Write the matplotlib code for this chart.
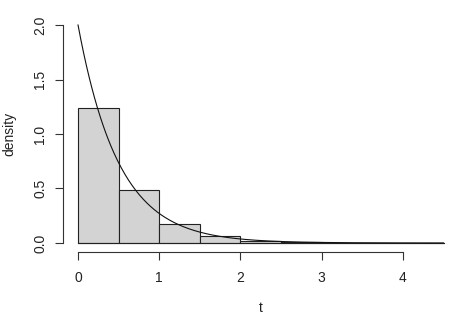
import numpy as np
import matplotlib
matplotlib.use('Agg')
import matplotlib.pyplot as plt

# histogram of simulated waiting times (density scale), bin width 0.5
bin_edges = [0.0, 0.5, 1.0, 1.5, 2.0, 2.5, 3.0, 3.5, 4.0, 4.5]
densities = [1.236, 0.488, 0.178, 0.068, 0.018, 0.007, 0.004, 0.0, 0.0]
# theoretical exponential density overlaid on top
rate = 2.0
x_ticks = [0, 1, 2, 3, 4]
y_ticks = [0.0, 0.5, 1.0, 1.5, 2.0]
y_tick_labels = ['0.0', '0.5', '1.0', '1.5', '2.0']


def plot_hist():
    plt.rcParams['font.family'] = ['Liberation Sans', 'DejaVu Sans']
    fig = plt.figure(figsize=(4.74, 3.16), dpi=100)
    ax = fig.add_axes([0.1338, 0.2035, 0.9665 - 0.1338, 0.9484 - 0.2035])

    lefts = np.array(bin_edges[:-1])
    widths = np.diff(bin_edges)
    ax.bar(lefts, densities, width=widths, align='edge',
           color='#d3d3d3', edgecolor='#222222', linewidth=0.8)
    ax.plot([bin_edges[0], bin_edges[-1]], [0, 0], color='#222222', lw=0.8)

    t = np.linspace(0, bin_edges[-1], 400)
    ax.plot(t, rate * np.exp(-rate * t), color='#111111', lw=0.8)

    ax.set_xlim(-0.18, 4.68)
    ax.set_ylim(-0.08, 2.08)
    for side in ['top', 'right']:
        ax.spines[side].set_visible(False)
    ax.spines['left'].set_bounds(0, 2)
    ax.spines['bottom'].set_bounds(0, 4)
    for side in ['left', 'bottom']:
        ax.spines[side].set_color('#333333')
        ax.spines[side].set_linewidth(0.8)

    ax.set_xticks(x_ticks)
    ax.set_yticks(y_ticks)
    ax.set_yticklabels(y_tick_labels, rotation=90, va='center')
    ax.tick_params(axis='both', length=5.8, width=0.8, color='#333333',
                   labelsize=10, labelcolor='#222222')
    ax.tick_params(axis='x', pad=8)
    ax.tick_params(axis='y', pad=6)

    ax.set_xlabel('t', fontsize=10, color='#222222', va='center')
    ax.set_ylabel('density', fontsize=10, color='#222222', va='center')
    ax.xaxis.set_label_coords(0.5, -0.239)
    ax.yaxis.set_label_coords(-0.136, 0.5)

    fig.savefig('out.png', dpi=100)


if __name__ == '__main__':
    plot_hist()
